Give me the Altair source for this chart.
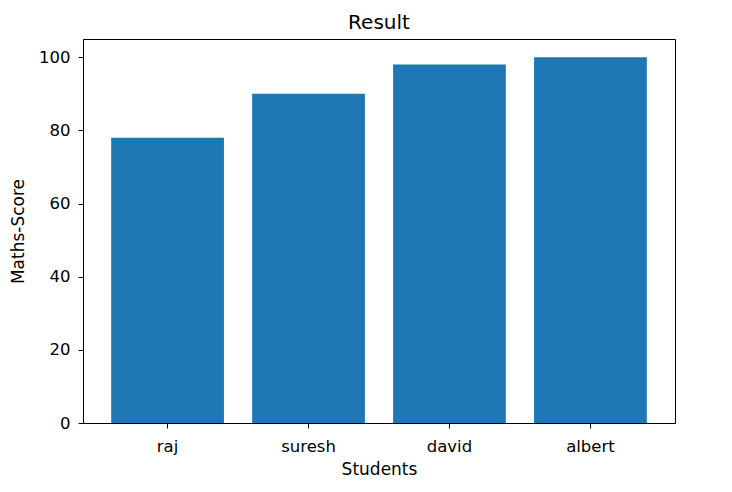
import altair as alt
import pandas as pd

students = ["raj", "suresh", "david", "albert"]
scores = [78, 90, 98, 100]
y_ticks = [0, 20, 40, 60, 80, 100]

df = pd.DataFrame({"Students": students, "Score": scores})

FONT = "DejaVu Sans"

chart = alt.Chart(df).mark_bar(color="#1f77b4").encode(
    x=alt.X("Students:N", sort=students,
            scale=alt.Scale(paddingInner=0.2, paddingOuter=0.2),
            axis=alt.Axis(title="Students", labelAngle=0)),
    y=alt.Y("Score:Q", scale=alt.Scale(domain=[0, 105], nice=False, zero=True),
            axis=alt.Axis(title="Maths-Score", values=y_ticks)),
).properties(
    width=592, height=384,
    title=alt.TitleParams("Result", font=FONT, fontSize=20, fontWeight="normal",
                          color="#000", offset=6, anchor="middle"),
    autosize=alt.AutoSizeParams(type="none"),
    padding={"left": 75, "top": 31, "right": 40, "bottom": 60},
).configure_view(
    stroke="#000", strokeWidth=1
).configure_axis(
    grid=False, domainColor="#000", tickColor="#000", tickSize=5,
    labelFont=FONT, labelFontSize=16.5, labelColor="#000",
    titleFont=FONT, titleFontSize=17, titleFontWeight="normal", titleColor="#000",
).configure_axisY(
    labelPadding=8, titlePadding=11
).configure_axisX(
    labelPadding=10, titlePadding=7
)

chart.save("out.html", embed_options={"renderer": "svg", "actions": False})
